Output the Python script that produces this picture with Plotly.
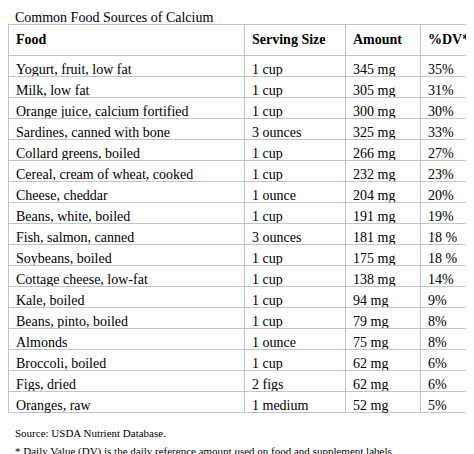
import plotly.graph_objects as go

foods = ["Yogurt, fruit, low fat", "Milk, low fat", "Orange juice, calcium fortified",
         "Sardines, canned with bone", "Collard greens, boiled", "Cereal, cream of wheat, cooked",
         "Cheese, cheddar", "Beans, white, boiled", "Fish, salmon, canned", "Soybeans, boiled",
         "Cottage cheese, low-fat", "Kale, boiled", "Beans, pinto, boiled", "Almonds",
         "Broccoli, boiled", "Figs, dried", "Oranges, raw"]
servings = ["1 cup", "1 cup", "1 cup", "3 ounces", "1 cup", "1 cup", "1 ounce", "1 cup",
            "3 ounces", "1 cup", "1 cup", "1 cup", "1 cup", "1 ounce", "1 cup", "2 figs", "1 medium"]
amounts = ["345 mg", "305 mg", "300 mg", "325 mg", "266 mg", "232 mg", "204 mg", "191 mg",
           "181 mg", "175 mg", "138 mg", "94 mg", "79 mg", "75 mg", "62 mg", "62 mg", "52 mg"]
dv = ["35%", "31%", "30%", "33%", "27%", "23%", "20%", "19%", "18 %", "18 %", "14%",
      "9%", "8%", "8%", "6%", "6%", "5%"]
headers = ["<b>Food</b>", "<b>Serving Size</b>", "<b>Amount</b>", "<b>%DV*</b>"]

W, H = 474, 454
font = "Liberation Serif"
line = "#bcc7d2"
navy = "#1f3550"

fig = go.Figure(go.Table(
    domain=dict(x=[0, 1], y=[1 - 440 / H, 1 - 16 / H]),
    columnwidth=[236, 101, 75, 62],
    header=dict(values=headers, height=21, align="left", fill_color="white",
                line=dict(color=line, width=1),
                font=dict(family=font, size=14, color="black")),
    cells=dict(values=[foods, servings, amounts, dv], height=21, align="left",
               fill_color="white", line=dict(color=line, width=1),
               font=dict(family=font, size=14, color="black")),
))

fig.add_annotation(text="Common Food Sources of Calcium", xref="paper", yref="paper",
                   x=0.01, y=1 - 10 / H, xanchor="left", yanchor="middle", showarrow=False,
                   font=dict(family=font, size=14, color="black"))
fig.add_annotation(text="Source: USDA Nutrient Database.", xref="paper", yref="paper",
                   x=0.01, y=1 - 425 / H, xanchor="left", yanchor="middle", showarrow=False,
                   font=dict(family=font, size=11, color="black"))
fig.add_annotation(text="* Daily Value (DV) is the daily reference amount used on food and supplement labels.",
                   xref="paper", yref="paper", x=0.01, y=1 - 443 / H, xanchor="left",
                   yanchor="middle", showarrow=False,
                   font=dict(family=font, size=11, color="black"))

fig.update_layout(width=W, height=H, margin=dict(l=0, r=0, t=0, b=0),
                  paper_bgcolor="white", plot_bgcolor="white")
fig.write_html("out.html")
